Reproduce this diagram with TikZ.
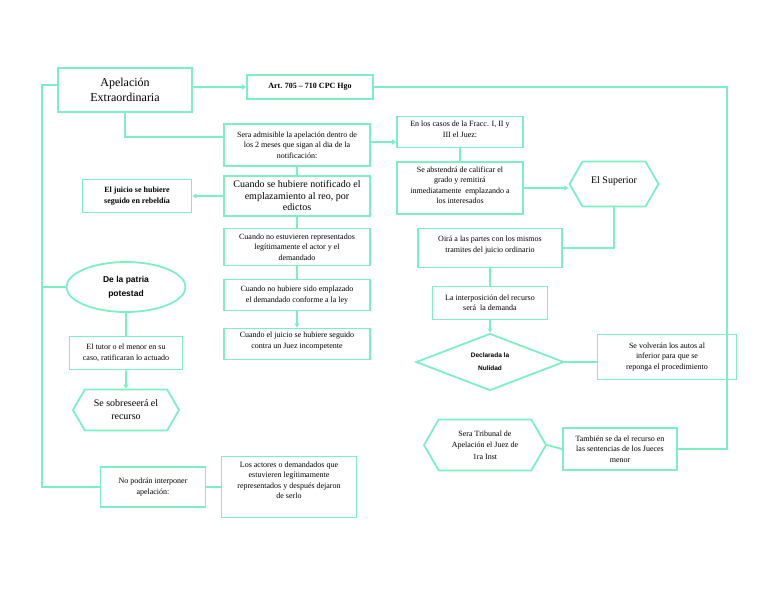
\documentclass[tikz,border=0pt]{standalone}
\usepackage{fontspec}
\setmainfont{Liberation Serif}
\newfontfamily\lsans{Liberation Sans}
\usetikzlibrary{shapes.geometric,shapes.symbols,arrows.meta}
\definecolor{mint}{RGB}{125,240,195}
\begin{document}
\begin{tikzpicture}[x=1pt,y=-1pt,
  box/.style={draw=mint,line width=1.8pt,fill=white,inner sep=1pt,align=center,font=\fontsize{8}{10.5}\selectfont},
  hexa/.style={box,signal,signal to=west and east,signal pointer angle=120},
  ln/.style={draw=mint,line width=1.8pt},
  arr/.style={ln,-{Triangle[width=5pt,length=4pt]}}]
\useasboundingbox (0,0) rectangle (768,594);
\node[box,minimum width=134,minimum height=44,font=\fontsize{12}{15}\selectfont] (A) at (125,90) {Apelación\\Extraordinaria};
\node[box,minimum width=126,minimum height=24,font=\bfseries\fontsize{8}{9}\selectfont] (art) at (310,87) {Art. 705 -- 710 CPC Hgo};
\node[box,minimum width=146,minimum height=42] (sera) at (297,145) {Sera admisible la apelación dentro de\\los 2 meses que sigan al dia de la\\notificación:};
\node[box,minimum width=146,minimum height=40,font=\fontsize{10}{11.5}\selectfont] (not) at (297,196) {Cuando se hubiere notificado el\\emplazamiento al reo, por\\edictos};
\node[box,minimum width=109,minimum height=33,font=\bfseries\fontsize{8}{10.5}\selectfont] (reb) at (137,196) {El juicio se hubiere\\seguido en rebeldía};
\node[box,minimum width=146,minimum height=37] (est) at (297,247) {Cuando no estuvieren representados\\legítimamente el actor y el\\demandado};
\node[box,minimum width=146,minimum height=31] (emp) at (297,295) {Cuando no hubiere sido emplazado\\el demandado conforme a la ley};
\node[box,minimum width=146,minimum height=31,text depth=8pt] (inc) at (297,344) {Cuando el juicio se hubiere seguido\\contra un Juez incompetente};
\node[box,ellipse,minimum width=119,minimum height=50,font=\lsans\bfseries\fontsize{8.5}{14}\selectfont] (pat) at (126,287) {De la patria\\potestad};
\node[box,minimum width=113,minimum height=33] (tut) at (126,353) {El tutor o el menor en su\\caso, ratificaran lo actuado};
\node[hexa,minimum width=106,minimum height=41,font=\fontsize{10}{13}\selectfont] (sob) at (126,410) {Se sobreseerá el\\recurso};
\node[box,minimum width=105,minimum height=40] (nop) at (153,487) {No podrán interponer\\apelación:};
\node[box,minimum width=135,minimum height=61,text depth=14pt] (act) at (289,487) {Los actores o demandados que\\estuvieren legítimamente\\representados y después dejaron\\de serlo};
\node[box,minimum width=126,minimum height=31,text depth=6pt] (cas) at (460,132) {En los casos de la Fracc. I, II y\\III el Juez:};
\node[box,minimum width=126,minimum height=52,text depth=6pt] (abs) at (460,188) {Se abstendrá de calificar el\\grado y remitirá\\inmediatamente\ \ emplazando a\\los interesados};
\node[hexa,minimum width=89,minimum height=45,font=\fontsize{10}{11}\selectfont,text depth=8pt] (sup) at (614,184) {El Superior};
\node[box,minimum width=144,minimum height=39,text depth=8pt] (oir) at (490,248) {Oirá a las partes con los mismos\\tramites del juicio ordinario};
\node[box,minimum width=115,minimum height=33] (int) at (490,303) {La interposición del recurso\\será\ \ la demanda};
\node[box,diamond,aspect=2.6,minimum width=148,minimum height=57,inner sep=0pt,font=\lsans\bfseries\fontsize{6.5}{13}\selectfont] (dia) at (490,362) {Declarada la\\Nulidad};
\node[box,minimum width=139,minimum height=45] (vol) at (667,357) {Se volverán los autos al\\inferior para que se\\reponga el procedimiento};
\node[hexa,minimum width=122,minimum height=51,font=\fontsize{8}{11.5}\selectfont] (tri) at (485,445) {Sera Tribunal de\\Apelación el Juez de\\1ra Inst};
\node[box,minimum width=114,minimum height=42] (tam) at (620,449) {También se da el recurso en\\las sentencias de los Jueces\\menor};
% connectors
\draw[arr] (A.east|-art) -- (art.west);
\draw[ln] (A.south) |- (sera.west|-0,137);
\draw[arr] (sera.east|-0,142) -- (cas.west|-0,142);
\draw[ln] (sera) -- (not);
\draw[arr] (not.west) -- (reb.east);
\draw[ln] (not) -- (est);
\draw[ln] (est) -- (emp);
\draw[arr] (emp) -- (inc);
\draw[ln] (A.west|-0,85) -- (42,85) -- (42,487) -- (nop.west);
\draw[ln] (42,287) -- (pat.west);
\draw[ln] (pat) -- (tut);
\draw[arr] (tut) -- (sob);
\draw[ln] (nop) -- (act);
\draw[ln] (cas) -- (abs);
\draw[arr] (abs.east) -- (sup.west|-abs.east);
\draw[ln] (sup.south) |- (oir.east);
\draw[ln] (oir) -- (int);
\draw[arr] (int) -- (dia);
\draw[ln] (dia.east) -- (vol.west|-dia.east);
\draw[ln] (art.east) -- (727,87) |- (tam.east);
\draw[ln] (tri.east) -- (tam.west);
\end{tikzpicture}
\end{document}
